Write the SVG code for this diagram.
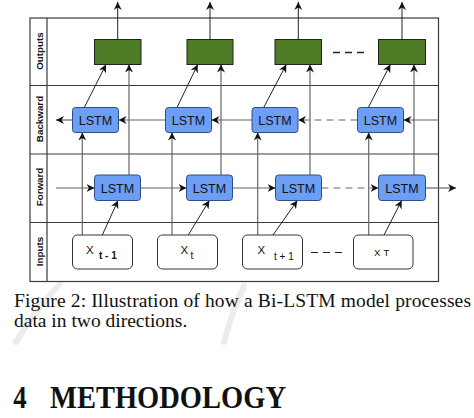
<svg xmlns="http://www.w3.org/2000/svg" width="474" height="418" viewBox="0 0 474 418">
<defs>
<marker id="ah" viewBox="0 0 10 10" refX="10" refY="5" markerWidth="8" markerHeight="8" markerUnits="userSpaceOnUse" orient="auto">
<path d="M0,0 L10,5 L0,10 L3,5 z" fill="#111"/>
</marker>
</defs>
<style>
.frame{fill:none;stroke:#3a3a3a;stroke-width:1.2}
.out{fill:#4e7b26;stroke:#222;stroke-width:1}
.lstm{fill:#6d9ef5;stroke:#2f4f7f;stroke-width:1}
.inp{fill:#fff;stroke:#333;stroke-width:1}
.ln{fill:none;stroke:#666;stroke-width:1.2}
.dg{fill:none;stroke:#222;stroke-width:1}
.arr{marker-end:url(#ah)}
.dash{stroke-dasharray:7 5}
.lbl{font-family:"Liberation Sans",Arial,sans-serif;font-weight:bold;font-size:9.8px;fill:#111}
.lt{font-family:"Liberation Sans",Arial,sans-serif;font-size:12.5px;fill:#111;text-anchor:middle}
.xt{font-family:"Liberation Sans",Arial,sans-serif;fill:#111}
.cap{font-family:"Liberation Serif","Times New Roman",serif;font-size:19.5px;fill:#111}
.hd{font-family:"Liberation Serif","Times New Roman",serif;font-weight:bold;font-size:32px;fill:#111}
.wm{fill:none;stroke:#ececec;stroke-width:6;stroke-linecap:round}
</style>
<g id="watermark">
<path class="wm" d="M60,284 Q35,310 16,342"/>
<path class="wm" d="M244,286 Q232,312 224,342"/>
</g>
<g id="frame">
<rect class="frame" x="30" y="18" width="408.5" height="263.5"/>
<line class="frame" x1="47" y1="18" x2="47" y2="281.5"/>
<line class="frame" x1="30" y1="85.5" x2="438.5" y2="85.5"/>
<line class="frame" x1="30" y1="154" x2="438.5" y2="154"/>
<line class="frame" x1="30" y1="222.5" x2="438.5" y2="222.5"/>
<text class="lbl" transform="translate(39,51) rotate(-90)" text-anchor="middle" dominant-baseline="central">Outputs</text>
<text class="lbl" transform="translate(39,119) rotate(-90)" text-anchor="middle" dominant-baseline="central">Backward</text>
<text class="lbl" transform="translate(39,187) rotate(-90)" text-anchor="middle" dominant-baseline="central">Forward</text>
<text class="lbl" transform="translate(39,251.5) rotate(-90)" text-anchor="middle" dominant-baseline="central">Inputs</text>
</g>
<g id="connectors">
<line class="dg arr" x1="117.7" y1="39.5" x2="117.7" y2="2"/>
<line class="dg arr" x1="210" y1="39.5" x2="210" y2="2"/>
<line class="dg arr" x1="298.3" y1="39.5" x2="298.3" y2="2"/>
<line class="dg arr" x1="402" y1="39.5" x2="402" y2="2"/>
<line class="dg dash" x1="333" y1="52.5" x2="367" y2="52.5" style="stroke-width:1.6"/>
<line class="ln arr" x1="438.5" y1="120" x2="403.5" y2="120"/>
<line class="ln arr dash" x1="357.5" y1="120" x2="298" y2="120"/>
<line class="ln arr" x1="252" y1="120" x2="211.5" y2="120"/>
<line class="ln arr" x1="165.5" y1="120" x2="118.5" y2="120"/>
<line class="ln arr" x1="72.5" y1="120" x2="56" y2="120"/>
<line class="ln arr" x1="56" y1="188" x2="94.5" y2="188"/>
<line class="ln arr" x1="140.5" y1="188" x2="186.5" y2="188"/>
<line class="ln arr" x1="232.5" y1="188" x2="275.5" y2="188"/>
<line class="ln arr dash" x1="321.5" y1="188" x2="378.5" y2="188"/>
<line class="ln arr" x1="425.5" y1="188" x2="456" y2="188"/>
<line class="ln arr" x1="82.3" y1="235" x2="82.3" y2="132.5"/>
<line class="ln arr" x1="172" y1="235" x2="172" y2="132.5"/>
<line class="ln arr" x1="257.7" y1="235" x2="257.7" y2="132.5"/>
<line class="ln arr" x1="368.7" y1="235" x2="368.7" y2="132.5"/>
<line class="dg arr" x1="102.3" y1="235" x2="118" y2="200.5"/>
<line class="dg arr" x1="188.3" y1="235" x2="209.3" y2="200.5"/>
<line class="dg arr" x1="273" y1="235" x2="297.3" y2="200.5"/>
<line class="dg arr" x1="384" y1="235" x2="401.7" y2="200.5"/>
<line class="ln arr" x1="129" y1="175" x2="129" y2="64.5"/>
<line class="ln arr" x1="221" y1="175" x2="221" y2="64.5"/>
<line class="ln arr" x1="310" y1="175" x2="310" y2="64.5"/>
<line class="ln arr" x1="414" y1="175" x2="414" y2="64.5"/>
<line class="dg arr" x1="84.3" y1="107.5" x2="106" y2="64.5"/>
<line class="dg arr" x1="177" y1="107.5" x2="197.7" y2="64.5"/>
<line class="dg arr" x1="263.7" y1="107.5" x2="286.3" y2="64.5"/>
<line class="dg arr" x1="368.3" y1="107.5" x2="390.3" y2="64.5"/>
<line class="dg dash" x1="311" y1="252.5" x2="346" y2="252.5"/>
</g>
<g id="out1"><rect class="out" x="94.5" y="39.5" width="46.5" height="25"/></g>
<g id="out2"><rect class="out" x="187" y="39.5" width="46" height="25"/></g>
<g id="out3"><rect class="out" x="275" y="39.5" width="46.5" height="25"/></g>
<g id="out4"><rect class="out" x="378.5" y="39.5" width="47" height="25"/></g>
<g id="bwd1"><rect class="lstm" x="72.5" y="107.5" width="46" height="25" rx="3"/><text class="lt" x="95.5" y="124.5">LSTM</text></g>
<g id="bwd2"><rect class="lstm" x="165.5" y="107.5" width="46" height="25" rx="3"/><text class="lt" x="188.5" y="124.5">LSTM</text></g>
<g id="bwd3"><rect class="lstm" x="252" y="107.5" width="46" height="25" rx="3"/><text class="lt" x="275" y="124.5">LSTM</text></g>
<g id="bwd4"><rect class="lstm" x="357.5" y="107.5" width="46" height="25" rx="3"/><text class="lt" x="380.5" y="124.5">LSTM</text></g>
<g id="fwd1"><rect class="lstm" x="94.5" y="175" width="46" height="25.5" rx="3"/><text class="lt" x="117.5" y="192.5">LSTM</text></g>
<g id="fwd2"><rect class="lstm" x="186.5" y="175" width="46" height="25.5" rx="3"/><text class="lt" x="209.5" y="192.5">LSTM</text></g>
<g id="fwd3"><rect class="lstm" x="275.5" y="175" width="46" height="25.5" rx="3"/><text class="lt" x="298.5" y="192.5">LSTM</text></g>
<g id="fwd4"><rect class="lstm" x="378.5" y="175" width="47" height="25.5" rx="3"/><text class="lt" x="402" y="192.5">LSTM</text></g>
<g id="in1"><rect class="inp" x="72.5" y="235" width="60" height="34" rx="5"/><text class="xt" x="86" y="254.3" font-size="11.5">X</text><text class="xt" x="99" y="259" font-size="10" font-weight="bold">t - 1</text></g>
<g id="in2"><rect class="inp" x="157.5" y="235" width="60" height="34" rx="5"/><text class="xt" x="180.5" y="254" font-size="11.5">X</text><text class="xt" x="190.5" y="258.5" font-size="10">t</text></g>
<g id="in3"><rect class="inp" x="242.5" y="235" width="60" height="34" rx="5"/><text class="xt" x="257.5" y="254.3" font-size="11.5">X</text><text class="xt" x="274" y="260" font-size="10">t + 1</text></g>
<g id="in4"><rect class="inp" x="353.5" y="235" width="59.5" height="34" rx="5"/><text class="xt" x="374" y="255.5" font-size="9.5">X</text><text class="xt" x="383.5" y="255.5" font-size="9.5">T</text></g>
<g id="caption">
<text class="cap" x="14" y="306.7" textLength="457" lengthAdjust="spacing">Figure 2:  Illustration of how a Bi-LSTM model processes</text>
<text class="cap" x="14" y="326.7">data in two directions.</text>
</g>
<g id="heading">
<text class="hd" x="13.3" y="407.5" textLength="13.4" lengthAdjust="spacingAndGlyphs">4</text>
<text class="hd" x="50" y="407.5" textLength="236" lengthAdjust="spacingAndGlyphs">METHODOLOGY</text>
</g>
</svg>
